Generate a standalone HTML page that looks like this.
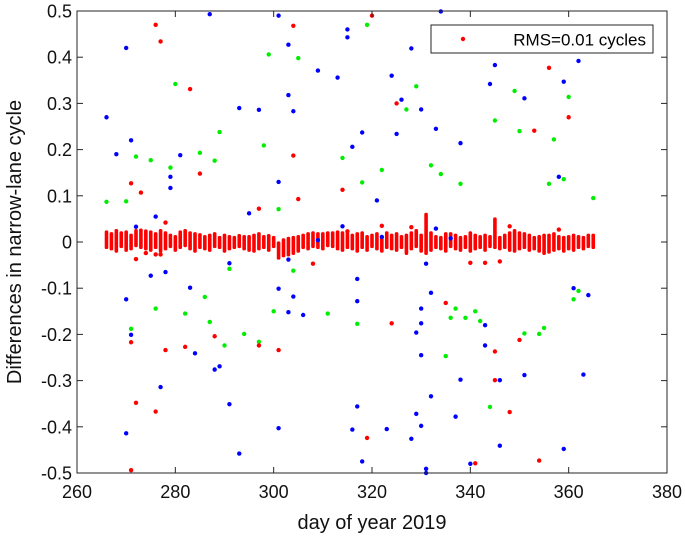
<!DOCTYPE html>
<html><head><meta charset="utf-8">
<style>
html,body{margin:0;padding:0;background:#fff;}
svg{display:block;font-family:"Liberation Sans",Arial,sans-serif;}
</style></head>
<body>
<svg id="chart" width="685" height="538" viewBox="0 0 685 538">
<rect x="0" y="0" width="685" height="538" fill="#fff"/>
<g id="marks"></g>
<g id="axes"></g>
<text x="372" y="529" font-size="20" text-anchor="middle" fill="#111">day of year 2019</text>
<text transform="translate(21,242) rotate(-90)" font-size="20" text-anchor="middle" fill="#111">Differences in narrow-lane cycle</text>
<g>
<rect x="431" y="25" width="222" height="28" fill="#fff" stroke="#262626" stroke-width="1"/>
<circle cx="463" cy="39" r="2.2" fill="#ff0000"/>
<text x="646" y="45.5" font-size="17" text-anchor="end" fill="#000">RMS=0.01 cycles</text>
</g>
</svg>
<script>
const xTicks = [260,280,300,320,340,360,380];
const yTicks = [-0.5,-0.4,-0.3,-0.2,-0.1,0,0.1,0.2,0.3,0.4,0.5];
const yTickLabels = ["-0.5","-0.4","-0.3","-0.2","-0.1","0","0.1","0.2","0.3","0.4","0.5"];
const barDayStart = 266;
const barTop = [22,18,25,20,22,15,25,26,24,22, 18,25,20,15,12,22,25,20,18,16, 12,15,18,10,15,12,10,14,12,12, 15,18,12,14,10,-2,5,8,10,12, 15,18,20,18,18,20,20,22,20,18, 15,18,20,12,15,18,10,20,15,18, 12,15,20,25,15,60,20,12,10,18, 18,15,10,12,20,15,12,15,12,50, 10,15,20,25,20,18,15,10,12,15, 15,18,12,10,12,15,12,10,15,15];
const barBot = [-12,-15,-20,-10,-18,-15,-8,-12,-15,-18, -12,-20,-15,-10,-18,-12,-8,-15,-20,-12, -15,-18,-10,-12,-20,-15,-12,-10,-15,-18, -20,-15,-12,-18,-10,-35,-30,-28,-25,-20, -12,-15,-10,-12,-15,-8,-10,-15,-18,-12, -15,-20,-12,-18,-10,-15,-20,-12,-15,-18, -12,-25,-15,-10,-20,-25,-18,-12,-15,-20, -10,-15,-18,-12,-20,-15,-12,-18,-10,-12, -15,-12,-18,-20,-15,-12,-18,-15,-20,-25, -22,-18,-15,-20,-15,-18,-12,-15,-10,-12];
const blueDays = [266,270,268,271,272,276,279,279,281,287,293,295,297,301,301,303,303,304,309,309,313,314,315,315,316,318, 328,324,326,330,325,333,338,321,345,362,344,359,351,358, 322,333,336, 270,271,275,278,277,270,283,284,288,289,291,291,293,301,301,303,303,304,306,317,317,317,316,318, 331,332,330,330,329,343,330,343,338,346,351,332,329,337,330,323,328,346,359,331,331,340,361,364,363, 334];
const blueVals = [0.27,0.42,0.19,0.22,0.033,0.055,0.141,0.117,0.188,0.493,0.29,0.062,0.286,0.49,0.13,0.427,0.318,0.283,0.371,0.004,0.356,0.034,0.46,0.443,0.206,0.237, 0.419,0.36,0.308,0.287,0.234,0.245,0.214,0.09,0.383,0.392,0.342,0.347,0.311,0.141, 0.011,0.029,0.008, -0.124,-0.201,-0.073,-0.065,-0.314,-0.414,-0.099,-0.241,-0.276,-0.269,-0.046,-0.351,-0.458,-0.101,-0.403,-0.038,-0.152,-0.118,-0.158,-0.08,-0.128,-0.356,-0.406,-0.475, -0.047,-0.11,-0.144,-0.176,-0.196,-0.18,-0.245,-0.224,-0.298,-0.299,-0.288,-0.334,-0.372,-0.378,-0.398,-0.405,-0.426,-0.441,-0.448,-0.491,-0.5,-0.48,-0.1,-0.115,-0.287, 0.499];
const greenDays = [266,270,272,275,279,280,285,288,289,298,299,301,305,314,318,319, 329,327,322,332,334,338,349,360,345,350,357,356,359,365, 271,276,282,286,287,290,291,294,297,300,304,311,317, 362,361,337,336,339,341,342,351,354,355,335,344];
const greenVals = [0.087,0.088,0.185,0.177,0.161,0.342,0.193,0.176,0.238,0.209,0.406,0.071,0.398,0.182,0.129,0.47, 0.337,0.287,0.156,0.166,0.147,0.126,0.327,0.314,0.263,0.24,0.222,0.126,0.136,0.095, -0.188,-0.144,-0.155,-0.119,-0.173,-0.224,-0.058,-0.199,-0.216,-0.15,-0.062,-0.155,-0.177, -0.106,-0.124,-0.144,-0.164,-0.164,-0.15,-0.171,-0.198,-0.199,-0.186,-0.247,-0.357];
const redDays = [276,277,271,273,278,283,285,297,304,304,305,314,315,320,325,356,360,353,322,328,348,358, 272,274,276,277,271,272,276,278,282,288,297,301,308,271,319, 340,343,346,335,324,350,345,345,348,341,354];
const redVals = [0.47,0.434,0.127,0.107,0.042,0.331,0.148,0.072,0.468,0.187,0.093,0.113,0.023,0.49,0.30,0.377,0.27,0.241,0.035,0.032,0.034,0.027, -0.037,-0.024,-0.027,-0.027,-0.217,-0.348,-0.367,-0.234,-0.227,-0.204,-0.224,-0.234,-0.047,-0.494,-0.424, -0.045,-0.045,-0.042,-0.132,-0.176,-0.212,-0.237,-0.299,-0.368,-0.479,-0.473];

const NS = "http://www.w3.org/2000/svg";
const L = 77, R = 667, T = 11, B = 473;
const xMin = 260, xMax = 380, yMin = -0.5, yMax = 0.5;
function xs(d){ return L + (d - xMin) / (xMax - xMin) * (R - L); }
function ys(v){ return B - (v - yMin) / (yMax - yMin) * (B - T); }
const marks = document.getElementById('marks');
const axes = document.getElementById('axes');
function mk(tag, attrs, parent){
  const e = document.createElementNS(NS, tag);
  for (const k in attrs) e.setAttribute(k, attrs[k]);
  parent.appendChild(e);
  return e;
}
for (let i = 0; i < barTop.length; i++) {
  const d = barDayStart + i;
  const y1 = ys(barTop[i] / 1000), y2 = ys(barBot[i] / 1000);
  const r = mk('rect', {x: xs(d) - 1.8, y: y1 - 1.5, width: 3.6, height: (y2 - y1) + 3, rx: 1.6, fill: '#ff0000'}, marks);
  
  
}
function dots(days, vals, color, name){
  for (let i = 0; i < days.length; i++) {
    const c = mk('circle', {cx: xs(days[i]), cy: ys(vals[i]), r: 2.2, fill: color}, marks);
    
    
  }
}
dots(greenDays, greenVals, '#00ee00', 'green-point');
dots(blueDays, blueVals, '#0000ff', 'blue-point');
dots(redDays, redVals, '#ff0000', 'red-point');
const frame = mk('rect', {x: L, y: T, width: R - L, height: B - T, fill: 'none', stroke: '#262626', 'stroke-width': 1}, axes);


xTicks.forEach(t => {
  const x = xs(t);
  const a = mk('line', {x1: x, x2: x, y1: B, y2: B - 6, stroke: '#262626'}, axes);
  
  
  const b = mk('line', {x1: x, x2: x, y1: T, y2: T + 6, stroke: '#262626'}, axes);
  
  
  const tx = mk('text', {x: x, y: B + 25, 'font-size': 18, 'text-anchor': 'middle', fill: '#111'}, axes);
  tx.textContent = String(t);
  
  
});
yTicks.forEach((t, i) => {
  const y = ys(t);
  const a = mk('line', {x1: L, x2: L + 6, y1: y, y2: y, stroke: '#262626'}, axes);
  
  
  const b = mk('line', {x1: R, x2: R - 6, y1: y, y2: y, stroke: '#262626'}, axes);
  
  
  const tx = mk('text', {x: L - 5, y: y + 6.5, 'font-size': 18, 'text-anchor': 'end', fill: '#111'}, axes);
  tx.textContent = yTickLabels[i];
  
  
});
</script>
</body></html>
